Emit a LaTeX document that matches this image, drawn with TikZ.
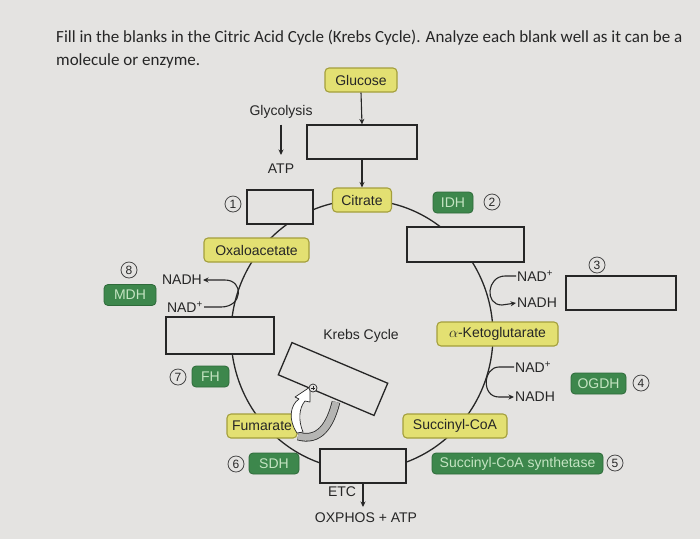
\documentclass[tikz,border=0pt]{standalone}
\usepackage{fontspec}
\setmainfont{Liberation Sans}
\newfontfamily\titlefont{Carlito}
\usetikzlibrary{arrows.meta}
\definecolor{bg}{HTML}{E4E3E1}
\definecolor{yfill}{HTML}{E3E072}
\definecolor{ydraw}{HTML}{A49F3C}
\definecolor{gfill}{HTML}{3D874C}
\definecolor{gdraw}{HTML}{2E6A3A}
\definecolor{gtext}{HTML}{C4E4C2}
\definecolor{ink}{HTML}{262626}
\definecolor{band}{HTML}{B5B5B3}
\begin{document}
\begin{tikzpicture}[x=1pt,y=-1pt,
  lbl/.style={font=\fontsize{14}{16}\selectfont, text=ink, inner sep=1pt},
  ybox/.style={draw=ydraw, fill=yfill, rounded corners=4pt, line width=1.1pt, minimum height=24pt, inner sep=0pt, font=\fontsize{14}{16}\selectfont, text=ink},
  gbox/.style={draw=gdraw, fill=gfill, rounded corners=4pt, line width=0.8pt, minimum height=21pt, inner sep=0pt, font=\fontsize{14}{16}\selectfont, text=gtext},
  blank/.style={draw=ink, fill=bg, line width=1.3pt, inner sep=0pt},
  num/.style={circle, draw=ink!85, line width=0.8pt, fill=bg, minimum size=16pt, inner sep=0pt, font=\fontsize{12}{13}\selectfont, text=ink},
  arr/.style={draw=ink, line width=1.1pt, -{Stealth[length=5.5pt,width=5pt]}},
  cyc/.style={draw=ink, line width=1.3pt},
]
\useasboundingbox (0,0) rectangle (700,539);
\fill[bg] (0,0) rectangle (700,539);

% title
\node[anchor=west, inner sep=0pt, font=\titlefont\fontsize{17}{20}\selectfont, text=ink] (t1) at (56,38)
  {Fill in the blanks in the Citric Acid Cycle (Krebs Cycle). Analyze each blank well as it can be a};
\node[anchor=west, inner sep=0pt, font=\titlefont\fontsize{17}{20}\selectfont, text=ink] (t2) at (56,61)
  {molecule or enzyme.};

% the cycle
\draw[cyc] (362,335) ellipse [x radius=131pt, y radius=135pt];

% yellow molecules
\node[ybox, minimum width=72pt] (glu) at (361,80) {Glucose};
\node[ybox, minimum width=59pt] (cit) at (362,200) {Citrate};
\node[ybox, minimum width=105pt] (oaa) at (256.5,250) {Oxaloacetate};
\node[ybox, minimum width=121pt] (akg) at (497.5,334) {$\alpha$-Ketoglutarate};
\node[ybox, minimum width=70pt] (fum) at (262,426) {Fumarate};
\node[ybox, minimum width=104pt] (scoa) at (455,426) {Succinyl-CoA};

% blanks
\node[blank, minimum width=110pt, minimum height=34pt] (b0) at (362,142) {};
\node[blank, minimum width=66pt, minimum height=34pt] (b1) at (280,207) {};
\node[blank, minimum width=117pt, minimum height=35pt] (biso) at (465.5,244.5) {};
\node[blank, minimum width=110pt, minimum height=34pt] (b3) at (621,293) {};
\node[blank, minimum width=108pt, minimum height=37pt] (bmal) at (220,335.5) {};
\node[blank, minimum width=86pt, minimum height=34pt] (bsuc) at (363,466) {};

% enzymes
\node[gbox, minimum width=52pt] (mdh) at (130,295) {MDH};
\node[gbox, minimum width=40pt] (idh) at (453,202.5) {IDH};
\node[gbox, minimum width=55pt] (ogdh) at (598.5,383.5) {OGDH};
\node[gbox, minimum width=37pt] (fh) at (210.5,376.5) {FH};
\node[gbox, minimum width=50pt] (sdh) at (274,463.5) {SDH};
\node[gbox, minimum width=171pt] (scs) at (517.5,463.5) {Succinyl-CoA synthetase};

% numbers
\node[num] (n1) at (233,204) {1};
\node[num] (n2) at (492,202) {2};
\node[num] (n3) at (597,265) {3};
\node[num] (n4) at (641,383) {4};
\node[num] (n5) at (615,463) {5};
\node[num] (n6) at (236,464) {6};
\node[num] (n7) at (178,377) {7};
\node[num] (n8) at (129,270) {8};

% labels
\node[lbl] (gly) at (281,112) {Glycolysis};
\node[lbl] (atp1) at (281,169) {ATP};
\node[lbl] (krebs) at (361,336) {Krebs Cycle};
\node[lbl, anchor=east] (nadhL) at (203,280) {NADH};
\node[lbl, anchor=east] (nadL) at (204,307) {NAD\textsuperscript{+}};
\node[lbl, anchor=west] (nadR1) at (516,276) {NAD\textsuperscript{+}};
\node[lbl, anchor=west] (nadhR1) at (516,303) {NADH};
\node[lbl, anchor=west] (nadR2) at (514,367) {NAD\textsuperscript{+}};
\node[lbl, anchor=west] (nadhR2) at (514,397) {NADH};
\node[lbl] (etc) at (342,492) {ETC};
\node[lbl] (ox) at (366,518) {OXPHOS + ATP};

% arrows
\draw[arr] (glu.south) -- (b0.north);
\draw[arr] (b0.south) -- (cit.north);
\draw[arr, shorten <=5pt, shorten >=8pt] (gly.south) -- (atp1.north);
\coordinate (etcend) at (363,507);
\draw[arr] (bsuc.south) -- (etcend);

% NAD branches
\draw[arr] (nadL.east) -- (221,307) .. controls (243,307) and (244,280) .. (225,280) -- (nadhL.east);
\draw[arr] (nadR1.west) -- (505,276) .. controls (487,276) and (484,305) .. (502,305) -- (nadhR1.west);
\draw[arr] (nadR2.west) -- (499,367) .. controls (483,367) and (481,397) .. (499,397) -- (nadhR2.west);

% tilted blank
\node[blank, minimum width=104pt, minimum height=35pt, rotate=-23] (btilt) at (333,379) {};

% SDH complex
\draw[ink, line width=0.8pt, double=band, double distance=7pt] (336,402) .. controls (330,426) and (319,442) .. (298,436);
\draw[ink, line width=0.7pt, fill=white, line join=round]
  (297,433) .. controls (288,420) and (290,405) .. (299,399) -- (295,397) -- (310,387) -- (310,402)
  -- (305,401) .. controls (299,408) and (298,420) .. (303,432) -- cycle;
\node[circle, draw=ink, fill=bg, line width=0.7pt, minimum size=8pt, inner sep=0pt] (plus) at (313,388) {};
\draw[ink, line width=0.6pt] ([xshift=-2.2pt]plus.center) -- ([xshift=2.2pt]plus.center)
  ([yshift=-2.2pt]plus.center) -- ([yshift=2.2pt]plus.center);
\end{tikzpicture}
\end{document}
